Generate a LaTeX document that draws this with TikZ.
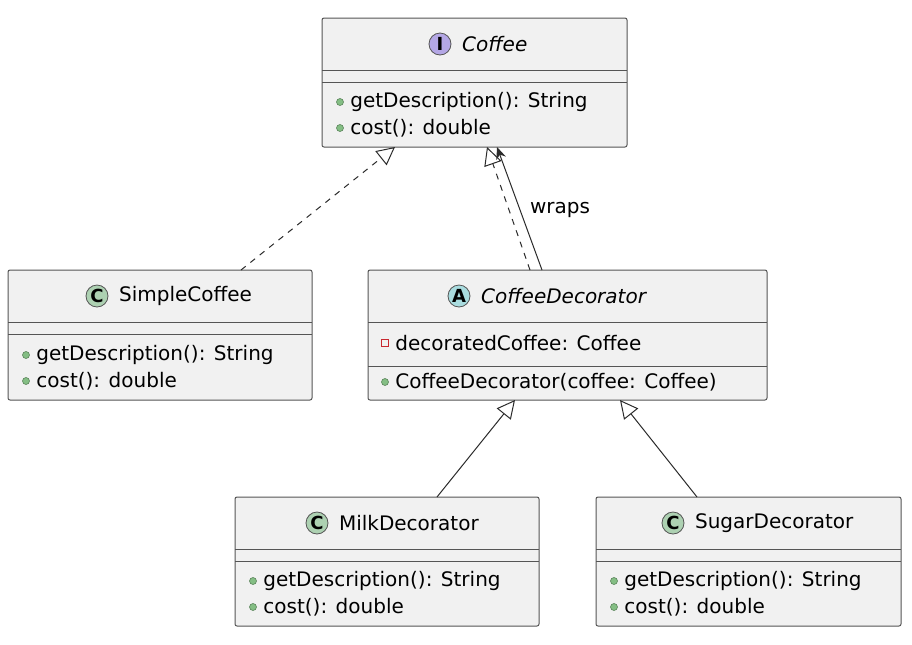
\documentclass[tikz,border=0pt]{standalone}
\usepackage{fontspec}
\setmainfont{DejaVu Sans}
\usetikzlibrary{arrows.meta}
\definecolor{boxfill}{HTML}{F1F1F1}
\definecolor{boxline}{HTML}{555555}
\definecolor{ifacecol}{HTML}{B4A7E5}
\definecolor{classcol}{HTML}{ADD1B2}
\definecolor{abstcol}{HTML}{A9DCDF}
\definecolor{pubcol}{HTML}{84BE84}
\definecolor{privcol}{HTML}{C82930}

\begin{document}
\begin{tikzpicture}[x=0.5pt, y=-0.5pt, font=\fontsize{10}{12}\selectfont]
        \tikzset{box/.style={draw=boxline, fill=boxfill, rounded corners=1pt, line width=0.5pt},
                 sep/.style={draw=boxline, line width=0.5pt},
                 badge/.style={circle, draw=boxline, line width=0.4pt, inner sep=0pt, minimum size=11pt, font=\bfseries\fontsize{9}{9}\selectfont},
                 member/.style={anchor=west, inner sep=0pt},
                 pub/.style={circle, fill=pubcol, draw=pubcol!70!black, line width=0.3pt, inner sep=0pt, minimum size=3.5pt},
                 priv/.style={rectangle, draw=privcol, line width=0.5pt, inner sep=0pt, minimum size=3.5pt},
                 realize/.style={-{Triangle[open, length=9pt, width=9pt]}, dashed, boxline!50!black, line width=0.5pt},
                 extends/.style={-{Triangle[open, length=9pt, width=9pt]}, boxline!50!black, line width=0.5pt},
                 assoc/.style={-{Stealth[length=6pt, width=5pt]}, boxline!50!black, line width=0.5pt}}
        \fill[white] (0,0) rectangle (912,644);
        % Coffee interface
        \draw[box] (322,18) rectangle (627,147);
        \draw[sep] (322,70) -- (627,70);
        \draw[sep] (322,82) -- (627,82);
        \node[badge, fill=ifacecol] (coffeeI) at (440,44) {I};
        \node[anchor=west] (coffeeT) at (455,44) {\itshape Coffee};
        \node[pub] (c1) at (340,102) {};
        \node[member] (c1t) at (350,102) {getDescription(): String};
        \node[pub] (c2) at (340,128) {};
        \node[member] (c2t) at (350,128) {cost(): double};
        % SimpleCoffee
        \draw[box] (8,270) rectangle (312,400);
        \draw[sep] (8,322) -- (312,322);
        \draw[sep] (8,334) -- (312,334);
        \node[badge, fill=classcol] (simpleI) at (97,296) {C};
        \node[anchor=west] (simpleT) at (112,296) {SimpleCoffee};
        \node[pub] (s1) at (26,355) {};
        \node[member] (s1t) at (36,355) {getDescription(): String};
        \node[pub] (s2) at (26,381) {};
        \node[member] (s2t) at (36,381) {cost(): double};
        % CoffeeDecorator
        \draw[box] (368,270) rectangle (767,400);
        \draw[sep] (368,322) -- (767,322);
        \draw[sep] (368,366) -- (767,366);
        \node[badge, fill=abstcol] (decoI) at (459,296) {A};
        \node[anchor=west] (decoT) at (474,296) {\itshape CoffeeDecorator};
        \node[priv] (d1) at (385,343) {};
        \node[member] (d1t) at (395,343) {decoratedCoffee: Coffee};
        \node[pub] (d2) at (385,382) {};
        \node[member] (d2t) at (395,382) {CoffeeDecorator(coffee: Coffee)};
        % MilkDecorator
        \draw[box] (235,497) rectangle (539,626);
        \draw[sep] (235,549) -- (539,549);
        \draw[sep] (235,561) -- (539,561);
        \node[badge, fill=classcol] (milkI) at (317,523) {C};
        \node[anchor=west] (milkT) at (332,523) {MilkDecorator};
        \node[pub] (m1) at (253,581) {};
        \node[member] (m1t) at (263,581) {getDescription(): String};
        \node[pub] (m2) at (253,607) {};
        \node[member] (m2t) at (263,607) {cost(): double};
        % SugarDecorator
        \draw[box] (596,497) rectangle (901,626);
        \draw[sep] (596,549) -- (901,549);
        \draw[sep] (596,561) -- (901,561);
        \node[badge, fill=classcol] (sugarI) at (673,523) {C};
        \node[anchor=west] (sugarT) at (688,523) {SugarDecorator};
        \node[pub] (g1) at (614,581) {};
        \node[member] (g1t) at (624,581) {getDescription(): String};
        \node[pub] (g2) at (614,607) {};
        \node[member] (g2t) at (624,607) {cost(): double};
        % connector ends
        \coordinate (simpleTop) at (241,270);
        \coordinate (coffeeL) at (395,147);
        \coordinate (decoTopA) at (530,270);
        \coordinate (coffeeM) at (487,147);
        \coordinate (decoTopB) at (542,270);
        \coordinate (coffeeR) at (497,147);
        \coordinate (milkTop) at (437,497);
        \coordinate (decoL) at (515,400);
        \coordinate (sugarTop) at (697,497);
        \coordinate (decoR) at (620,400);
        \draw[realize] (simpleTop) -- (coffeeL);
        \draw[realize] (decoTopA) -- (coffeeM);
        \draw[assoc] (decoTopB) -- (coffeeR);
        \node[anchor=west] (wraps) at (523,210) {wraps};
        \draw[extends] (milkTop) -- (decoL);
        \draw[extends] (sugarTop) -- (decoR);
    \end{tikzpicture}
\end{document}
